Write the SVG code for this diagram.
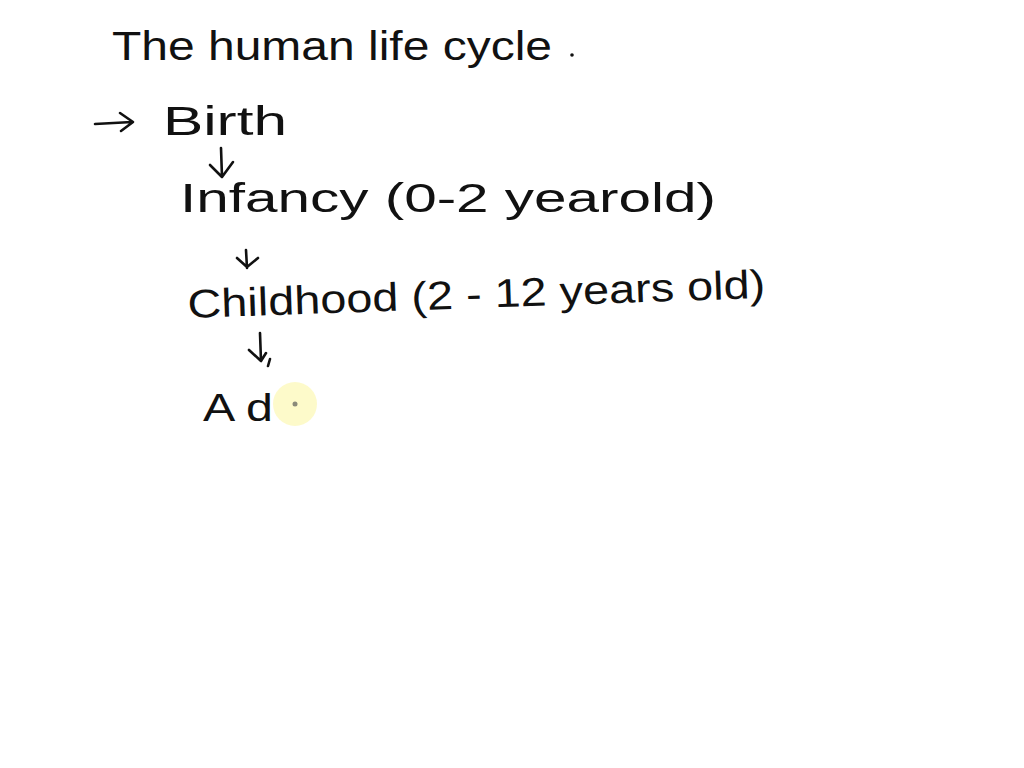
<svg xmlns="http://www.w3.org/2000/svg" width="1024" height="768" viewBox="0 0 1024 768">
<style>
.t{font-family:"Liberation Sans","DejaVu Sans",sans-serif;fill:#111;font-weight:normal}
.c{fill:none;stroke:#111;stroke-width:2.6;stroke-linecap:round;stroke-linejoin:round}
</style>
<rect width="1024" height="768" fill="#fff"/>
<g id="title"><text class="t" x="112" y="60" font-size="40" textLength="440" lengthAdjust="spacingAndGlyphs">The human life cycle</text>
<circle cx="572" cy="55" r="1.8" fill="#111"/></g>
<g id="birth"><text class="t" x="163" y="135" font-size="40" textLength="124" lengthAdjust="spacingAndGlyphs">Birth</text></g>
<g id="infancy"><text class="t" x="180" y="212" font-size="40" textLength="536" lengthAdjust="spacingAndGlyphs">Infancy (0-2 yearold)</text></g>
<g id="childhood"><text class="t" x="188" y="318" font-size="40" textLength="578" lengthAdjust="spacingAndGlyphs" transform="rotate(-2 188 318)">Childhood (2 - 12 years old)</text></g>
<g id="adolescence"><text class="t" x="203" y="421" font-size="38" textLength="70" lengthAdjust="spacingAndGlyphs">A d</text>
<circle cx="295" cy="404" r="22" fill="#fdf9c4" opacity="0.9"/>
<circle cx="295" cy="404" r="2.5" fill="#8a8a7a"/></g>
<g id="connectors">
<path class="c" d="M95 124 L132 122 M120 113 L133 122 L121 131"/>
<path class="c" d="M221 148 L222 177 M210 165 L222 177 L233 162"/>
<path class="c" d="M246 250 L247 268 M237 258 L247 267 L258 258"/>
<path class="c" d="M260 333 L261 361 M249 350 L261 361 L266 353 M270 359 L268 366"/>
</g>
</svg>
